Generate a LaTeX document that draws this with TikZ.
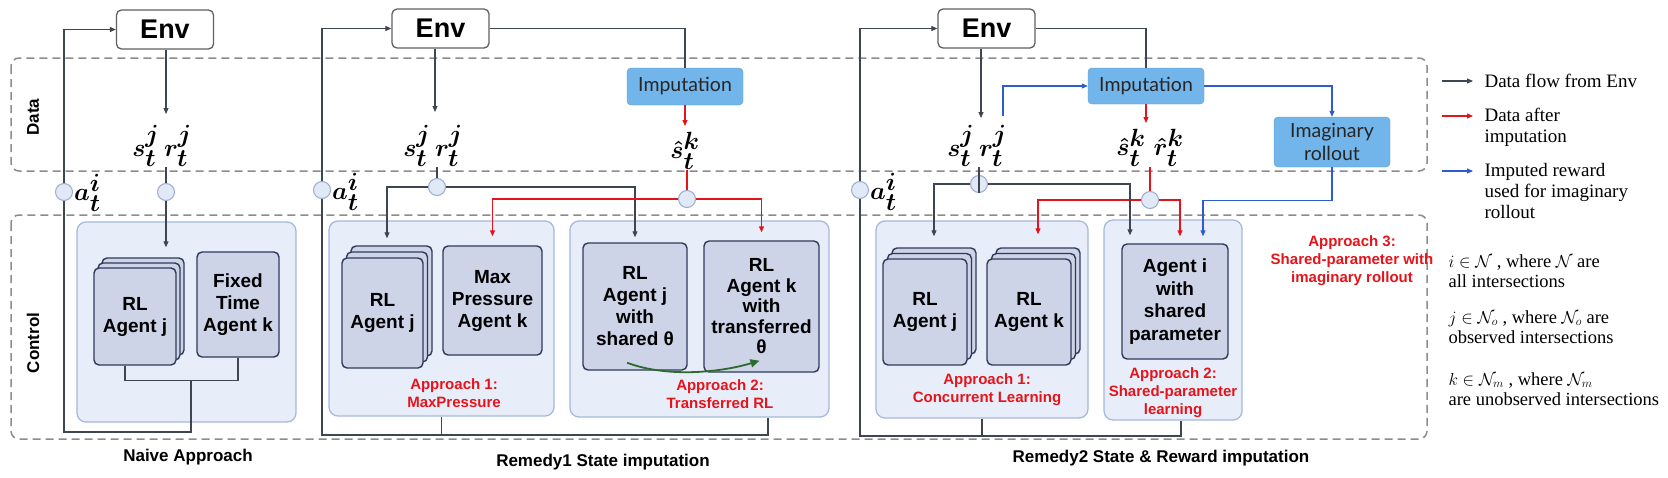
\documentclass[tikz,border=0pt]{standalone}
\usepackage{amsmath}
\usepackage{fontspec}
\setmainfont{Liberation Serif}
\newfontfamily\sansb{Liberation Sans}
\newfontfamily\latof{Lato}
\DeclareMathSizes{36}{36}{28}{22}
\DeclareMathSizes{32}{32}{25}{20}
\usetikzlibrary{arrows.meta,calc}
\definecolor{panelfill}{HTML}{E8EEF9}
\definecolor{panelline}{HTML}{A6B8DD}
\definecolor{agentfill}{HTML}{CDD4E8}
\definecolor{agentline}{HTML}{2F3A5A}
\definecolor{impfill}{HTML}{72B5EA}
\definecolor{circfill}{HTML}{E2E9F6}
\definecolor{circline}{HTML}{9AAAD0}
\definecolor{linec}{HTML}{404552}
\definecolor{redc}{HTML}{E5141B}
\definecolor{bluec}{HTML}{2D5BD0}
\definecolor{greenc}{HTML}{2E6A2E}
\definecolor{dashc}{HTML}{8C8C8C}
\begin{document}
\begin{tikzpicture}[x=1pt,y=-1pt,
 tip/.style={-{Triangle[length=6pt,width=5pt]}},
 conn/.style={draw=linec,line width=1.1pt},
 redconn/.style={draw=redc,line width=1.1pt},
 blueconn/.style={draw=bluec,line width=1.1pt},
 envbox/.style={draw=gray!75!black,fill=white,rounded corners=5pt,line width=1.3pt,minimum width=97pt,minimum height=39pt,inner sep=0pt,font=\sansb\bfseries\fontsize{27}{30}\selectfont},
 impbox/.style={fill=impfill,draw=impfill!85!black,line width=0.4pt,rounded corners=4pt,inner sep=0pt,font=\latof\fontsize{19.5}{23}\selectfont,text=black!85,align=center},
 panel/.style={fill=panelfill,draw=panelline,rounded corners=9pt,line width=1.3pt,inner sep=0pt},
 agent/.style={fill=agentfill,draw=agentline,rounded corners=5pt,line width=1.4pt,inner sep=0pt,align=center,font=\sansb\bfseries\fontsize{19}{22}\selectfont},
 card/.style={fill=agentfill,draw=agentline,rounded corners=5pt,line width=1.4pt,inner sep=0pt},
 dot/.style={circle,fill=circfill,draw=circline,line width=1pt,minimum size=17pt,inner sep=0pt},
 dashbox/.style={draw=dashc,dash pattern=on 8pt off 5pt,line width=1.5pt,rounded corners=8pt},
 mathlab/.style={font=\boldmath\fontsize{36}{40}\selectfont,inner sep=0pt},
 alab/.style={font=\boldmath\fontsize{32}{36}\selectfont,inner sep=0pt,anchor=west},
 applab/.style={text=redc,align=center,font=\sansb\bfseries\fontsize{15}{18}\selectfont},
 titlelab/.style={font=\sansb\bfseries\fontsize{17}{20}\selectfont},
 leglab/.style={anchor=west,align=left,font=\fontsize{19}{21}\selectfont},
 legmath/.style={anchor=west,align=left,font=\fontsize{18.5}{20}\selectfont}
]
\useasboundingbox (0,0) rectangle (1668,477);
\fill[white] (0,0) rectangle (1668,477);

% dashed frames
\draw[dashbox] (11,58) rectangle (1427,171);
\draw[dashbox] (11,215) rectangle (1427,439);
\node[titlelab,rotate=90] (datalab) at (33,117) {Data};
\node[titlelab,rotate=90] (ctrllab) at (33,343) {Control};

% ================= Left: naive =================
\node[panel,minimum width=219pt,minimum height=200pt] (p1) at (186.5,322) {};
\node[envbox] (env1) at (165,29.5) {Env};
\node[mathlab] (sr1) at (162,146) {$s_t^j\, r_t^j$};
\node[dot] (c1) at (166,192) {};
\node[dot] (a1) at (64,192) {};
\node[alab] (al1) at (74,193) {$a_t^i$};
\node[card,minimum width=82pt,minimum height=97pt] (j1b2) at (143,306.5) {};
\node[card,minimum width=82pt,minimum height=97pt] (j1b1) at (139,311.5) {};
\node[agent,minimum width=82pt,minimum height=97pt] (j1) at (135,316.5) {RL\\Agent j};
\node[agent,minimum width=82pt,minimum height=105pt] (fk1) at (238,304.5) {Fixed\\Time\\Agent k};
\coordinate (b1) at (191,380);
\coordinate (loop1) at (191,432);
\coordinate (e1) at (166,114);
\draw[conn,tip] (e1 |- env1.south) -- (e1);
\draw[conn] (sr1.south -| c1) -- (c1.north);
\draw[conn,tip,shorten >=10pt] (c1.south) -- (c1 |- j1b2.north);
\draw[conn] ([xshift=-10pt]j1.south) -- ++(0,15) -| (fk1.south);
\draw[conn] (a1.south) |- (loop1) -- (b1);
\draw[conn,tip] (a1.north) |- (env1.west);
\node[titlelab] (t1) at (188,457) {Naive Approach};

% ================= Middle: remedy 1 =================
\node[panel,minimum width=225pt,minimum height=195pt] (p2a) at (441.5,318.5) {};
\node[panel,minimum width=259pt,minimum height=196pt] (p2b) at (699.5,319) {};
\node[envbox] (env2) at (440.5,28.5) {Env};
\node[impbox,minimum width=116pt,minimum height=37pt] (imp2) at (685,86.5) {Imputation};
\node[mathlab] (sr2) at (433,146) {$s_t^j\, r_t^j$};
\node[mathlab] (sh2) at (685,151) {$\hat{s}_t^k$};
\node[dot] (c2a) at (437,187) {};
\node[dot] (c2b) at (687,199) {};
\node[dot] (a2) at (322,190) {};
\node[alab] (al2) at (332,192) {$a_t^i$};
\node[card,minimum width=81pt,minimum height=110pt] (j2b2) at (391.5,301) {};
\node[card,minimum width=81pt,minimum height=110pt] (j2b1) at (387,307) {};
\node[agent,minimum width=81pt,minimum height=110pt] (j2) at (382.5,313) {RL\\Agent j};
\node[agent,minimum width=99pt,minimum height=109pt] (mpk2) at (492.5,300.5) {Max\\Pressure\\Agent k};
\node[agent,minimum width=104pt,minimum height=127pt] (js2) at (635,306.5) {RL\\Agent j\\with\\shared θ};
\node[agent,minimum width=115pt,minimum height=131pt,font=\sansb\bfseries\fontsize{19}{20.5}\selectfont] (kt2) at (761.5,306.5) {RL\\Agent k\\with\\transferred\\θ};
\coordinate (loop2) at (768,435);
\coordinate (e2) at (435,112);
\coordinate (h2) at (685,126);
\draw[conn,tip] (e2 |- env2.south) -- (e2);
\draw[conn] (sr2.south -| c2a) -- (c2a.north);
\draw[conn,tip,shorten >=13pt] (c2a.west) -| (j2b1.north);
\draw[conn,tip,shorten >=5pt] (c2a.east) -| (js2.north);
\draw[conn] (env2.east) -| (imp2.north);
\draw[redconn,tip] (imp2.south) -- (h2);
\draw[redconn] (sh2.south -| c2b) -- (c2b.north);
\draw[redconn,tip,shorten >=9pt] (c2b.west) -| (mpk2.north);
\draw[redconn,tip,shorten >=8pt] (c2b.east) -| (kt2.north);
\draw[conn,tip] (a2.north) |- (env2.west);
\draw[conn] (a2.south) |- (loop2) -- (loop2 |- p2b.south);
\draw[conn] (p2a.south) -- (p2a.south |- loop2);
\draw[greenc,line width=1.8pt,-{Triangle[length=9pt,width=8pt]}] ($(js2.south)+(-8,-8)$) .. controls +(40,15) and +(-40,12) .. ($(kt2.south)+(-2,-12)$);
\node[applab] (app1m) at (454,393) {Approach 1:\\MaxPressure};
\node[applab] (app2m) at (720,394) {Approach 2:\\Transferred RL};
\node[titlelab] (t2) at (603,462) {Remedy1 State imputation};

% ================= Right: remedy 2 =================
\node[panel,minimum width=212pt,minimum height=197pt] (p3a) at (982,319.5) {};
\node[panel,minimum width=138pt,minimum height=200pt] (p3b) at (1173,320) {};
\node[envbox] (env3) at (986.5,28.5) {Env};
\node[impbox,minimum width=116pt,minimum height=36pt] (imp3) at (1146,86) {Imputation};
\node[impbox,minimum width=116pt,minimum height=50pt] (imag) at (1332,142) {Imaginary\\rollout};
\node[mathlab] (sr3) at (977,146) {$s_t^j\, r_t^j$};
\node[mathlab] (sh3) at (1150,148) {$\hat{s}_t^k\;\hat{r}_t^k$};
\node[dot] (c3a) at (979,184) {};
\node[dot] (c3b) at (1150,200) {};
\node[dot] (a3) at (860,190) {};
\node[alab] (al3) at (870,192) {$a_t^i$};
\node[card,minimum width=84pt,minimum height=106pt] (j3b2) at (934,301) {};
\node[card,minimum width=84pt,minimum height=106pt] (j3b1) at (929.5,306.5) {};
\node[agent,minimum width=84pt,minimum height=106pt] (j3) at (925,312) {RL\\Agent j};
\node[card,minimum width=84pt,minimum height=106pt] (k3b2) at (1038,301) {};
\node[card,minimum width=84pt,minimum height=106pt] (k3b1) at (1033.5,306.5) {};
\node[agent,minimum width=84pt,minimum height=106pt] (k3) at (1029,312) {RL\\Agent k};
\node[agent,minimum width=106pt,minimum height=115pt,font=\sansb\bfseries\fontsize{19}{22.5}\selectfont] (agi) at (1175,301.5) {Agent i\\with\\shared\\parameter};
\coordinate (rj) at (1003,116);
\coordinate (loop3) at (1181,436);
\coordinate (e3) at (981,118);
\coordinate (h3) at (1146,123);
\draw[conn,tip] (e3 |- env3.south) -- (e3);
\draw[conn] (env3.east) -| (imp3.north);
\draw[blueconn,tip] (rj) |- (imp3.west);
\draw[blueconn,tip] (imp3.east) -| (imag.north);
\draw[blueconn,tip,shorten >=7pt] (imag.south) -- ++(0,33) -| ($(agi.north)+(28,0)$);
\draw[redconn,tip] (imp3.south) -- (h3);
\draw[redconn] (sh3.south -| c3b) -- (c3b.north);
\draw[redconn,tip,shorten >=13pt] (c3b.west) -| (k3b2.north);
\draw[redconn,tip,shorten >=7pt] (c3b.east) -| ($(agi.north)+(5,0)$);
\draw[conn,tip,shorten >=11pt] (c3a.west) -| (j3b2.north);
\draw[conn,tip,shorten >=8pt] (c3a.east) -| ($(agi.north)+(-45,0)$);
\draw[conn] (sr3.south -| c3a) -- (c3a.south);
\draw[conn,tip] (a3.north) |- (env3.west);
\draw[conn] (a3.south) |- (loop3) -- (loop3 |- p3b.south);
\draw[conn] (p3a.south) -- (p3a.south |- loop3);
\node[applab] (app1c) at (987,390) {Approach 1:\\Concurrent Learning};
\node[applab] (app2s) at (1173,393) {Approach 2:\\Shared-parameter\\learning};
\node[applab] (app3) at (1352,261) {Approach 3:\\Shared-parameter with\\imaginary rollout};
\node[titlelab] (t3) at (1161,458) {Remedy2 State \& Reward imputation};

% ================= Legend =================
\coordinate (l1a) at (1442,81);  \coordinate (l1b) at (1473,81);
\coordinate (l2a) at (1442,116); \coordinate (l2b) at (1473,116);
\coordinate (l3a) at (1442,171); \coordinate (l3b) at (1473,171);
\draw[conn,tip] (l1a) -- (l1b);
\draw[redconn,tip] (l2a) -- (l2b);
\draw[blueconn,tip] (l3a) -- (l3b);
\node[leglab] (lt1) at (1481,81) {Data flow from Env};
\node[leglab,anchor=north west] (lt2) at (1481,105) {Data after\\imputation};
\node[leglab,anchor=north west] (lt3) at (1481,160) {Imputed reward\\used for imaginary\\rollout};
\node[legmath,anchor=north west] (lt4) at (1445,251) {$i\in\mathcal{N}$ , where $\mathcal{N}$ are\\all intersections};
\node[legmath,anchor=north west] (lt5) at (1445,307) {$j\in\mathcal{N}_o$ , where $\mathcal{N}_o$ are\\observed intersections};
\node[legmath,anchor=north west] (lt6) at (1445,369) {$k\in\mathcal{N}_m$ , where $\mathcal{N}_m$\\are unobserved intersections};
\end{tikzpicture}
\end{document}
